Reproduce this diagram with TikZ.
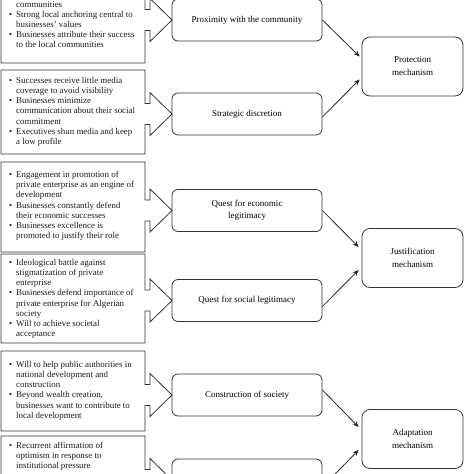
\documentclass[tikz,border=0pt]{standalone}
\usepackage{fontspec}
\setmainfont{Liberation Serif}
\usetikzlibrary{arrows.meta,calc}
\begin{document}
\begin{tikzpicture}[x=1pt,y=-1pt,
  outline/.style={draw=black!80,line width=0.8pt,line join=miter},
  lefttext/.style={anchor=north west,inner sep=0pt,align=left,font=\fontsize{8.9}{10.2}\selectfont,text=black!90},
  midbox/.style={draw=black!80,line width=0.8pt,rounded corners=6pt,minimum width=150pt,minimum height=42pt,align=center,font=\fontsize{9}{12}\selectfont,inner sep=2pt},
  rightbox/.style={draw=black!80,line width=0.8pt,rounded corners=8pt,minimum width=101pt,minimum height=59pt,align=center,font=\fontsize{9}{13}\selectfont,inner sep=2pt},
  link/.style={draw=black!85,line width=0.8pt,-{Stealth[length=6pt,width=5pt]}}]
\useasboundingbox (0,0) rectangle (474,474);
\clip (0,0) rectangle (474,474);
\newcommand{\bl}{\makebox[7pt][l]{\textbullet}}
\newcommand{\ind}{\hspace*{7pt}}
% left block-arrow boxes: top, bottom, tip
\newcommand{\leftbox}[3]{%
  \draw[outline] (1,#1) -- (145,#1) -- (145,#3-10.5) -- (150,#3-10.5) -- (150,#3-21.5)
    -- (172,#3) -- (150,#3+21.5) -- (150,#3+10.5) -- (145,#3+10.5) -- (145,#2) -- (1,#2) -- cycle;}
\leftbox{-30}{63}{20}
\leftbox{70}{154}{114}
\leftbox{162}{252}{210.5}
\leftbox{254}{343}{300.5}
\leftbox{351}{431}{395}
\leftbox{436}{520}{480}
% left texts
\node[lefttext] (t1) at (9,1) {\ind communities\\ \bl Strong local anchoring central to\\ \ind businesses' values\\ \bl Businesses attribute their success\\ \ind to the local communities};
\node[lefttext] (t2) at (9,77) {\bl Successes receive little media\\ \ind coverage to avoid visibility\\ \bl Businesses minimize\\ \ind communication about their social\\ \ind commitment\\ \bl Executives shun media and keep\\ \ind a low profile};
\node[lefttext] (t3) at (9,171) {\bl Engagement in promotion of\\ \ind private enterprise as an engine of\\ \ind development\\ \bl Businesses constantly defend\\ \ind their economic successes\\ \bl Businesses excellence is\\ \ind promoted to justify their role};
\node[lefttext] (t4) at (9,259) {\bl Ideological battle against\\ \ind stigmatization of private\\ \ind enterprise\\ \bl Businesses defend importance of\\ \ind private enterprise for Algerian\\ \ind society\\ \bl Will to achieve societal\\ \ind acceptance};
\node[lefttext] (t5) at (9,361) {\bl Will to help public authorities in\\ \ind national development and\\ \ind construction\\ \bl Beyond wealth creation,\\ \ind businesses want to contribute to\\ \ind local development};
\node[lefttext] (t6) at (9,442) {\bl Recurrent affirmation of\\ \ind optimism in response to\\ \ind institutional pressure};
% middle boxes
\node[midbox] (prox) at (247,20) {Proximity with the community};
\node[midbox] (strat) at (247,114) {Strategic discretion};
\node[midbox] (qecon) at (247,210.5) {Quest for economic\\legitimacy};
\node[midbox] (qsoc) at (247,300.5) {Quest for social legitimacy};
\node[midbox] (constr) at (247,395) {Construction of society};
\node[midbox] (last) at (247,480) {};
% right boxes
\node[rightbox] (prot) at (412.5,66.5) {Protection\\mechanism};
\node[rightbox] (just) at (412.5,258) {Justification\\mechanism};
\node[rightbox] (adapt) at (412.5,439) {Adaptation\\mechanism};
% connectors
\draw[link] (prox.east) -- ($(prot.west)+(-2,-10)$);
\draw[link] ($(strat.east)+(0,3)$) -- ($(prot.west)+(-2,13)$);
\draw[link] (qecon.east) -- ($(just.west)+(-3,-11)$);
\draw[link] ($(qsoc.east)+(0,6)$) -- ($(just.west)+(-3,12)$);
\draw[link] ($(constr.east)+(0,-5)$) -- ($(adapt.west)+(-3,-12)$);
\draw[link] ($(last.east)+(0,7)$) -- ($(adapt.west)+(-3,11)$);
\end{tikzpicture}
\end{document}
